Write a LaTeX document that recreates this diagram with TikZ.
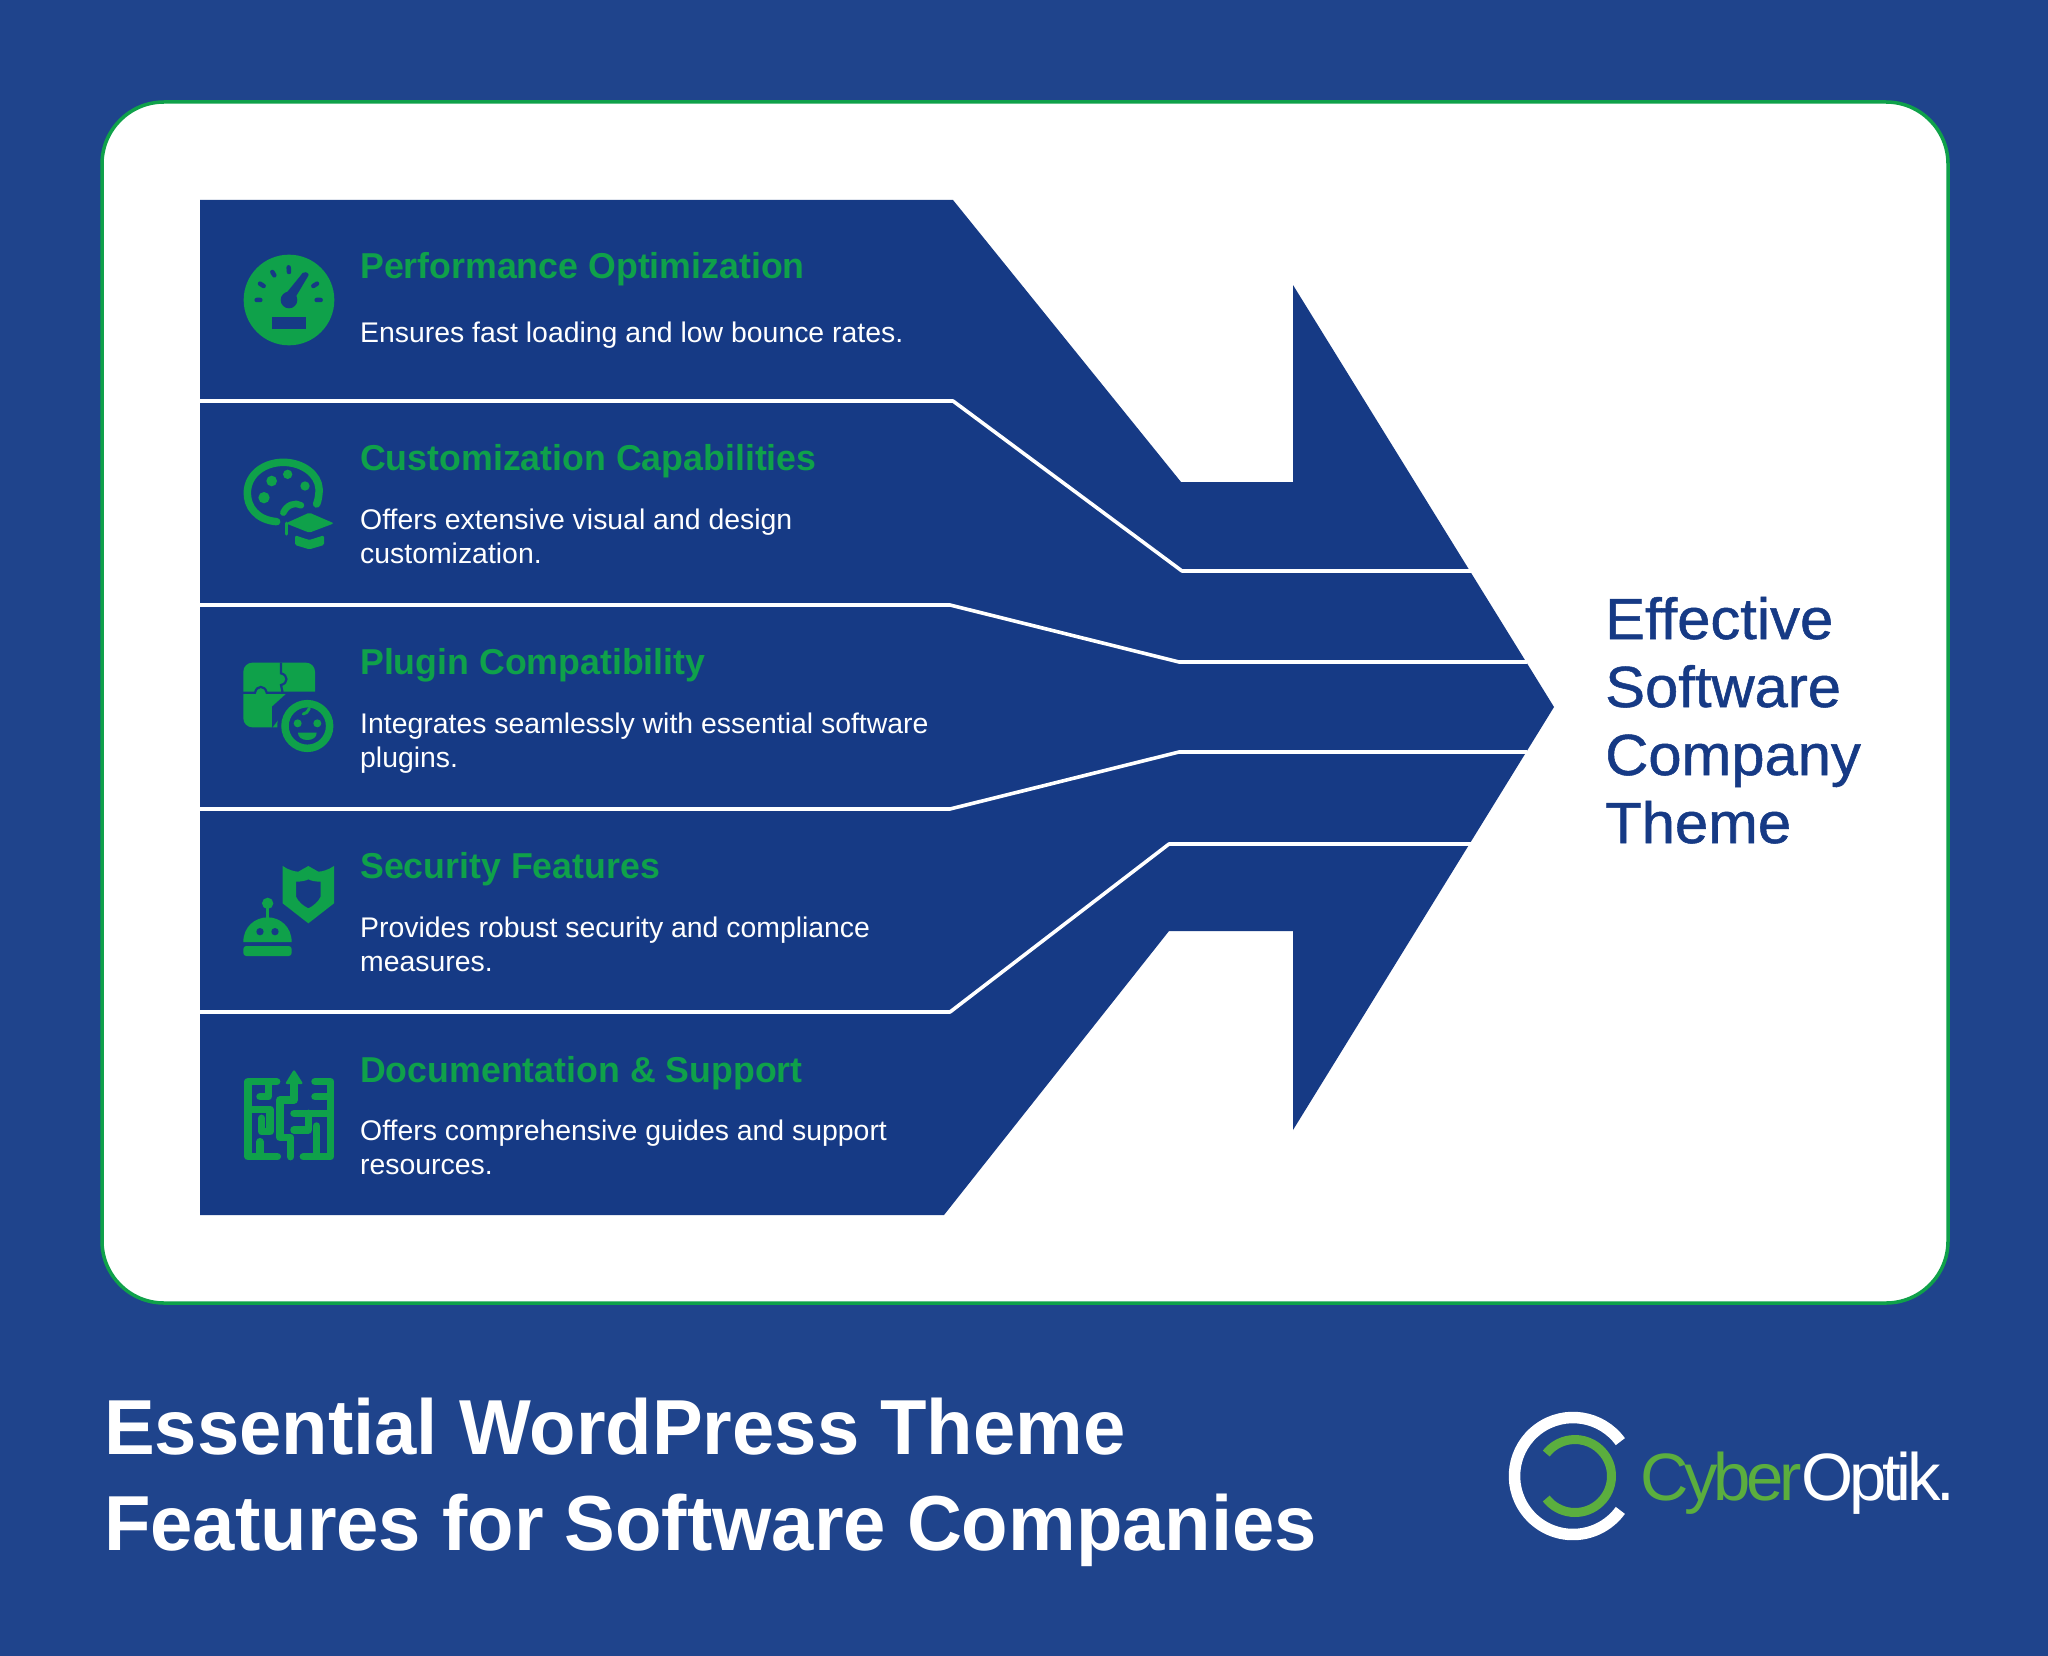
\documentclass[tikz,border=0pt]{standalone}
\usepackage{fontspec}
\setmainfont{Liberation Sans}
\newfontfamily\headfont[FakeStretch=0.992]{Liberation Sans}
\newfontfamily\logofont[LetterSpace=-6.5]{Liberation Sans}
\newfontfamily\titlefont[FakeStretch=0.975]{Liberation Sans}
\newfontfamily\goalfont[FakeBold=0.9,FakeStretch=1.03]{Liberation Sans}
\definecolor{pagebg}{HTML}{1F448C}
\definecolor{arrowblue}{HTML}{163A85}
\definecolor{accent}{HTML}{0FA14A}
\definecolor{logogreen}{HTML}{5BAE3E}
\tikzset{
  x=1pt,y=-1pt,
  heading/.style={anchor=base west,inner sep=0pt,text=accent,font=\headfont\bfseries\fontsize{36}{40}\selectfont},
  bodytext/.style={anchor=base west,inner sep=0pt,text=white,align=left,font=\fontsize{28.4}{34}\selectfont},
  divider/.style={draw=white,line width=3.6pt,line join=round},
  icon/.style={x=.33333pt,y=-.33333pt},
  iconfill/.style={fill=accent},
  iconcut/.style={fill=arrowblue},
  iconline/.style={draw=accent,line cap=round,line join=round},
}
\begin{document}
\begin{tikzpicture}
\fill[pagebg] (0,0) rectangle (2048,1656);
\useasboundingbox (0,0) rectangle (2048,1656);
% card
\path[fill=white,draw=accent,line width=3.5pt,rounded corners=62pt] (102,102) rectangle (1948,1303);
% big arrow
\fill[arrowblue] (200,200) -- (953,200) -- (1181,482) -- (1293,482) -- (1293,285) -- (1554,707) -- (1293,1130) -- (1293,931) -- (1169,931) -- (944,1215) -- (200,1215) -- cycle;
% dividers
\draw[divider] (200,401) -- (953,401) -- (1182,571) -- (1472,571);
\draw[divider] (200,605) -- (950,605) -- (1179,662) -- (1527,662);
\draw[divider] (200,809) -- (950,809) -- (1179,752) -- (1527,752);
\draw[divider] (200,1012) -- (950,1012) -- (1169,844) -- (1472,844);
% texts
\node[heading] (h1) at (360,278) {Performance Optimization};
\node[bodytext] (b1) at (360,342) {Ensures fast loading and low bounce rates.};
\node[heading] (h2) at (360,470) {Customization Capabilities};
\node[bodytext] (b2) at (360,563) {Offers extensive visual and design\\customization.};
\node[heading] (h3) at (360,674) {Plugin Compatibility};
\node[bodytext] (b3) at (360,767) {Integrates seamlessly with essential software\\plugins.};
\node[heading] (h4) at (360,878) {Security Features};
\node[bodytext] (b4) at (360,971) {Provides robust security and compliance\\measures.};
\node[heading] (h5) at (360,1082) {Documentation \& Support};
\node[bodytext] (b5) at (360,1174) {Offers comprehensive guides and support\\resources.};
\node[anchor=base west,inner sep=0pt,text=arrowblue,align=left,font=\goalfont\fontsize{58}{68}\selectfont] (goal) at (1605,843) {Effective\\Software\\Company\\Theme};
\node[anchor=base west,inner sep=0pt,text=white,align=left,font=\titlefont\bfseries\fontsize{78}{95.5}\selectfont] (title) at (104,1550) {Essential WordPress Theme\\Features for Software Companies};
% icon 1 gauge
\begin{scope}[shift={(220,230)},icon]
\fill[iconfill] (207,210) circle (136);
\fill[iconcut] (207,210) circle (25);
\fill[iconcut,rounded corners=2pt] (192,198) -- (252,124) -- (268,132) -- (224,206) -- cycle;
\fill[iconcut] (155,262) rectangle (258,296);
\draw[draw=arrowblue,line width=4.5pt,line cap=round]
 (110,210) -- (121,210) (120,161) -- (131,168) (157,126) -- (163,136) (206,112) -- (207,126) (280,168) -- (291,161) (290,210) -- (302,210);
\end{scope}
% icon 2 palette
\begin{scope}[shift={(220,230)},icon]
\draw[iconline,line width=7.5pt] (170,875) .. controls (110,870) and (80,830) .. (82,785) .. controls (85,730) and (135,697) .. (190,697) .. controls (250,697) and (295,735) .. (297,775) .. controls (298,790) and (295,810) .. (290,822);
\fill[iconfill] (132,803) circle (17) (155,753) circle (16) (203,733) circle (14) (255,768) circle (14);
\draw[iconline,line width=6.5pt] (190,848) .. controls (200,825) and (225,815) .. (243,826);
\fill[iconfill,rounded corners=1.5pt] (197,880) -- (268,848) -- (342,880) -- (268,908) -- cycle;
\draw[iconline,line width=3.5pt] (200,880) -- (200,912);
\fill[iconfill,rounded corners=1.5pt] (225,916) -- (268,930) -- (312,916) -- (312,945) -- (268,958) -- (225,945) -- cycle;
\end{scope}
% icon 3 puzzle
\begin{scope}[shift={(220,640)},icon]
\fill[iconfill,rounded corners=9pt] (70,68) rectangle (285,262);
\fill[iconcut] (200,158) rectangle (292,268);
\draw[draw=arrowblue,line width=2.2pt] (183,68) -- (183,100) .. controls (205,105) and (205,130) .. (183,135) -- (188,158) -- (140,158) .. controls (135,135) and (110,135) .. (105,158) -- (68,158) (188,158) -- (290,158);
\fill[iconfill] (180,118) circle (13);
\fill[iconcut] (262,258) circle (90);
\fill[iconcut] (156,264) -- (156,200) -- (200,160) -- (205,200) -- cycle;
\draw[draw=accent,line width=7.5pt] (262,258) circle (67);
\fill[iconfill] (233,250) circle (12) (292,250) circle (12);
\fill[iconfill] (234,278) -- (290,278) .. controls (290,292) and (278,300) .. (262,300) .. controls (246,300) and (234,292) .. (234,278) -- cycle;
\draw[iconline,line width=3pt] (250,222) .. controls (258,222) and (262,215) .. (268,205);
\end{scope}
% icon 4 shield + robot
\begin{scope}[shift={(220,640)},icon]
\fill[iconfill,even odd rule] (188,678) .. controls (205,690) and (225,695) .. (235,695) -- (265,678) -- (295,695) .. controls (305,695) and (325,690) .. (342,678) -- (342,790) -- (265,850) -- (188,790) -- cycle
 (228,725) .. controls (245,725) and (258,722) .. (265,718) .. controls (272,722) and (285,725) .. (302,725) -- (302,770) .. controls (295,785) and (280,798) .. (265,805) .. controls (250,798) and (235,785) .. (228,770) -- cycle;
\fill[iconfill] (143,790) circle (17);
\draw[iconline,line width=3pt] (143,790) -- (143,835);
\fill[iconfill] (70,906) .. controls (70,860) and (105,832) .. (143,832) .. controls (180,832) and (215,860) .. (215,906) -- cycle;
\fill[iconfill,rounded corners=3pt] (70,918) rectangle (215,948);
\fill[iconcut] (120,875) circle (11) (165,875) circle (11);
\end{scope}
% icon 5 maze
\begin{scope}[shift={(220,1050)},icon]
\draw[iconline,line width=7.5pt]
 (170,95) -- (84,95) -- (84,320) -- (172,320)
 (120,140) -- (145,140) -- (145,100)
 (88,178) -- (150,178) -- (150,245) -- (125,245) -- (125,205)
 (120,275) -- (120,318)
 (222,95) -- (222,150) -- (180,150) -- (180,262) -- (212,262) -- (212,320)
 (285,95) -- (332,95) -- (332,320) -- (250,320)
 (285,140) -- (328,140)
 (222,190) -- (328,190)
 (265,190) -- (265,240) -- (222,240)
 (290,228) -- (290,316);
\fill[iconfill,rounded corners=2pt] (195,102) -- (222,58) -- (250,102) -- cycle;
\end{scope}
% logo
\draw[draw=white,line width=11.5pt] (1573,1476) ++(-36:58.5) arc[start angle=-36,end angle=-324,radius=58.5];
\draw[draw=logogreen,line width=9pt] (1575,1476) ++(142:36.5) arc[start angle=142,end angle=-142,radius=36.5];
\node[anchor=base west,inner sep=0pt,text=logogreen,font=\logofont\fontsize{67}{70}\selectfont] (cyber) at (1640,1500) {Cyber};
\node[anchor=base west,inner sep=0pt,text=white,font=\logofont\fontsize{67}{70}\selectfont] (optik) at (cyber.base east) {Optik.};
\end{tikzpicture}
\end{document}
